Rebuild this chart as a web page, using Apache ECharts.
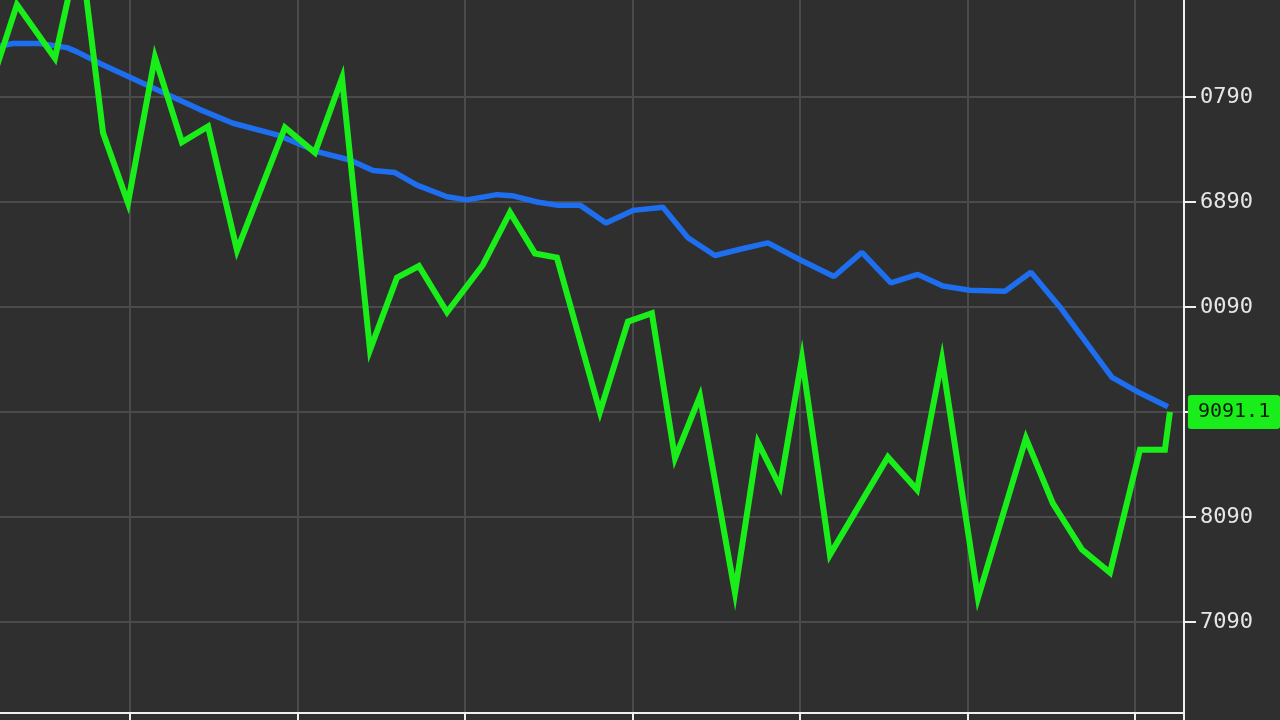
<!DOCTYPE html>
<html>
<head>
<meta charset="utf-8">
<script src="https://cdn.jsdelivr.net/npm/echarts@6/dist/echarts.min.js"></script>
<style>
  html, body { margin: 0; padding: 0; background: #2f2f2f; }
  #chart { width: 1280px; height: 720px; }
</style>
</head>
<body>
<div id="chart"></div>
<script>
// ---- data (x in days, y in axis units; each grid step = 100) ----
const greenX = [1.76, 3.25, 5.52, 7.01, 8.39, 9.88, 11.49, 13.10, 14.66, 16.39, 19.25, 21.04, 22.66, 24.33, 25.94, 27.25, 28.93, 31.07, 32.69, 34.18, 35.49, 38.06, 39.73, 41.16, 42.54, 44.03, 46.12, 47.49, 48.81, 50.12, 51.79, 55.25, 56.99, 58.48, 60.63, 63.49, 65.10, 66.84, 68.51, 70.30, 71.79, 72.09];
const greenY = [515, 588, 537, 645, 466, 399, 538, 457, 472, 354, 471, 447, 518, 259, 328, 339, 295, 340, 390, 351, 347, 200, 286, 294, 156, 215, 28, 171, 129, 251, 64, 157, 126, 250, 23, 175, 113, 69, 47, 164, 164, 200];

const blueX = [1.76, 3.01, 4.63, 6.24, 6.84, 8.21, 11.19, 14.18, 16.15, 18.78, 21.16, 23.13, 24.51, 25.82, 27.13, 28.93, 30.12, 31.91, 32.81, 34.30, 35.49, 36.87, 38.42, 40.03, 41.82, 43.31, 44.93, 46.42, 48.09, 50.00, 52.03, 53.70, 55.43, 57.04, 58.54, 60.15, 62.24, 63.79, 65.52, 68.63, 70.30, 71.97];
const blueY = [547, 551, 551, 547, 543, 532, 510, 488, 475, 464, 448, 440, 430, 428, 416, 405, 402, 407, 406, 400, 397, 397, 380, 392, 395, 366, 349, 355, 361, 345, 329, 352, 323, 331, 320, 316, 315, 333, 300, 233, 218, 205];

const yTickValues = [0, 100, 200, 300, 400, 500, 600];
const yTickLabels = ['7090', '8090', '', '0090', '6890', '0790', '0090'];
const endLabelText = '9091.1';

const pair = (xs, ys) => xs.map((x, i) => [x, ys[i]]);

const chart = echarts.init(document.getElementById('chart'));
chart.setOption({
  animation: false,
  backgroundColor: '#2f2f2f',
  grid: { left: -37.5, right: 96, top: -10, bottom: 7, containLabel: false, outerBoundsMode: 'none' },
  xAxis: {
    type: 'value',
    min: 0,
    max: 72.93,
    interval: 10,
    axisLine: { show: true, onZero: false, lineStyle: { color: '#f0f0f0', width: 2 } },
    axisTick: { show: true, length: 7, lineStyle: { color: '#f0f0f0', width: 2 } },
    axisLabel: { show: false },
    splitLine: { show: true, lineStyle: { color: '#4b4b4b', width: 2 } }
  },
  yAxis: {
    type: 'value',
    position: 'right',
    min: -86.7,
    max: 601.9,
    axisLine: { show: true, onZero: false, lineStyle: { color: '#f0f0f0', width: 2 } },
    axisTick: { show: true, length: 12, customValues: yTickValues, lineStyle: { color: '#f0f0f0', width: 2 } },
    axisLabel: {
      show: true,
      customValues: yTickValues,
      showMaxLabel: true,
      showMinLabel: true,
      hideOverlap: false,
      margin: 16,
      color: '#e6e6e6',
      fontSize: 22,
      fontFamily: 'DejaVu Sans Mono',
      formatter: function (v) {
        const i = yTickValues.indexOf(Math.round(v));
        return i >= 0 ? yTickLabels[i] : '';
      }
    },
    splitLine: { show: true, lineStyle: { color: '#4b4b4b', width: 2 } }
  },
  series: [
    {
      type: 'line',
      data: pair(blueX, blueY),
      symbol: 'none',
      lineStyle: { color: '#1e6ef0', width: 5.5 },
      z: 3
    },
    {
      type: 'line',
      data: pair(greenX, greenY),
      symbol: 'none',
      lineStyle: { color: '#1aee1a', width: 6, join: 'miter' },
      z: 4,
      endLabel: {
        show: true,
        formatter: endLabelText,
        distance: 18,
        backgroundColor: '#1aee1a',
        color: '#0c1a0c',
        fontSize: 20,
        lineHeight: 22,
        fontFamily: 'DejaVu Sans Mono',
        padding: [6, 10],
        borderRadius: 3
      }
    }
  ]
});
</script>
</body>
</html>
